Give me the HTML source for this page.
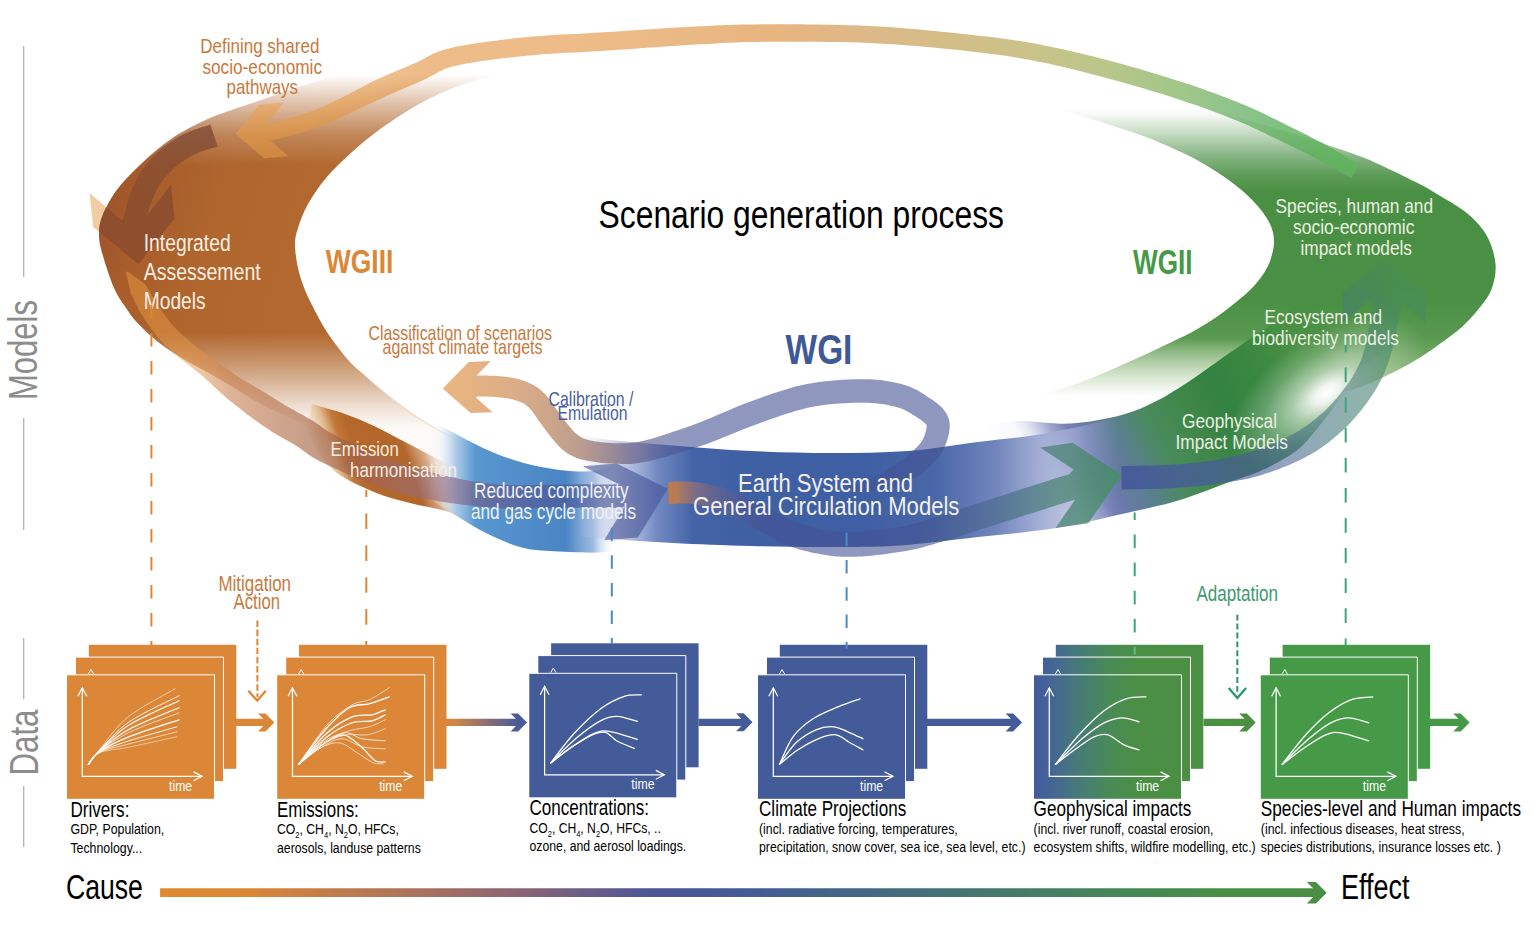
<!DOCTYPE html>
<html><head><meta charset="utf-8"><title>Scenario generation process</title>
<style>
html,body{margin:0;padding:0;background:#fff;}
body{width:1536px;height:926px;overflow:hidden;font-family:"Liberation Sans",sans-serif;}
svg{display:block;}
text{font-family:"Liberation Sans",sans-serif;}
</style></head><body>
<svg width="1536" height="926" viewBox="0 0 1536 926">
<defs>
<linearGradient id="gOr" gradientUnits="userSpaceOnUse" x1="98" y1="200" x2="310" y2="260"><stop offset="0.000" stop-color="#9d522a"/><stop offset="0.200" stop-color="#a85d2b"/><stop offset="0.550" stop-color="#b0662d"/><stop offset="1.000" stop-color="#b2682e"/></linearGradient>
<linearGradient id="gOrTop" gradientUnits="userSpaceOnUse" x1="0" y1="64" x2="0" y2="166"><stop offset="0.000" stop-color="#000"/><stop offset="0.100" stop-color="#000"/><stop offset="0.200" stop-color="#000" stop-opacity="0.86"/><stop offset="0.420" stop-color="#000" stop-opacity="0.55"/><stop offset="0.700" stop-color="#000" stop-opacity="0.2"/><stop offset="1.000" stop-color="#000" stop-opacity="0"/></linearGradient>
<linearGradient id="gOrBot" gradientUnits="userSpaceOnUse" x1="0" y1="332" x2="0" y2="430"><stop offset="0.000" stop-color="#000" stop-opacity="0"/><stop offset="0.250" stop-color="#000" stop-opacity="0.24"/><stop offset="0.500" stop-color="#000" stop-opacity="0.5"/><stop offset="0.750" stop-color="#000" stop-opacity="0.78"/><stop offset="0.920" stop-color="#000" stop-opacity="0.93"/><stop offset="1.000" stop-color="#000" stop-opacity="0.97"/></linearGradient>
<clipPath id="cpOr"><path d="M530 66C521.7 66.1 498.3 66.2 480 66.5C461.7 66.8 441.2 66.9 420 68C398.8 69.1 371.7 70.3 353 73C334.3 75.7 323.3 79.5 308 84C292.7 88.5 277.3 94.3 261 100C244.7 105.7 225 111.5 210 118C195 124.5 182.7 131.2 171 139C159.3 146.8 149.2 156.3 140 165C130.8 173.7 122.3 182.3 116 191C109.7 199.7 104.8 209.5 102 217C99.2 224.5 98.8 229.5 99 236C99.2 242.5 100.5 247.4 103 256C105.5 264.6 110.3 279.3 113.8 287.5C117.3 295.7 120 299.1 124 305C128 310.9 131.3 316.4 137.5 323C143.7 329.6 153.4 338.4 161.3 344.6C169.2 350.8 177.1 355.3 185 360C192.9 364.7 200.9 368.5 208.8 373C216.7 377.5 224.7 382.2 232.6 387C240.5 391.8 248.5 397.2 256.4 401.6C264.3 406 272.1 409.6 280 413.5C287.9 417.4 296.1 421.1 304 425C311.9 428.9 318.3 432.5 327.6 437C336.9 441.5 347.9 446.8 360 452C372.1 457.2 386.7 463 400 468C413.3 473 433.3 479.7 440 482L490 455C481.7 451 455 439.3 440 431C425 422.7 413 414.7 400 405C387 395.3 370.3 380.2 362 373C353.7 365.8 354.2 366.5 350 362C345.8 357.5 341.2 351.5 337 346C332.8 340.5 329.2 335.8 325 329C320.8 322.2 315.5 311.9 312 305C308.5 298.1 306.3 293.7 304 287.5C301.7 281.3 299.5 275.1 298 268C296.5 260.9 295 251.7 295 245C295 238.3 295.8 234.8 298 228C300.2 221.2 303.3 212.3 308 204C312.7 195.7 318.7 186.7 326 178C333.3 169.3 343.8 159.5 352 152C360.2 144.5 367.5 138.8 375 133C382.5 127.2 389.7 122.3 397 117.5C404.3 112.7 411.7 108.1 419 104C426.3 99.9 433.7 96.2 441 93C448.3 89.8 455.5 87.1 463 84.5C470.5 81.9 478.5 79.6 486 77.5C493.5 75.4 500.7 73.6 508 72C515.3 70.4 526.3 68.7 530 68Z"/></clipPath>
<mask id="m_crescent-orange" maskUnits="userSpaceOnUse" x="80" y="40" width="520" height="480"><rect x="80" y="40" width="520" height="480" fill="#fff"/><rect x="80" y="40" width="520" height="480" fill="url(#gOrTop)"/><rect x="80" y="40" width="520" height="480" fill="url(#gOrBot)"/></mask>
<linearGradient id="gGr" gradientUnits="userSpaceOnUse" x1="0" y1="300" x2="0" y2="385"><stop offset="0.000" stop-color="#4a9044"/><stop offset="0.450" stop-color="#5a9a50"/><stop offset="0.800" stop-color="#7fae6c"/><stop offset="1.000" stop-color="#8db679"/></linearGradient>
<linearGradient id="gGrTop" gradientUnits="userSpaceOnUse" x1="0" y1="108" x2="0" y2="192"><stop offset="0.000" stop-color="#000"/><stop offset="0.080" stop-color="#000" stop-opacity="0.95"/><stop offset="0.300" stop-color="#000" stop-opacity="0.68"/><stop offset="0.550" stop-color="#000" stop-opacity="0.36"/><stop offset="0.800" stop-color="#000" stop-opacity="0.1"/><stop offset="1.000" stop-color="#000" stop-opacity="0"/></linearGradient>
<linearGradient id="gGrBot" gradientUnits="userSpaceOnUse" x1="0" y1="338" x2="0" y2="396"><stop offset="0.000" stop-color="#000" stop-opacity="0"/><stop offset="0.500" stop-color="#000" stop-opacity="0.5"/><stop offset="1.000" stop-color="#000"/></linearGradient>
<linearGradient id="gGrBotX" gradientUnits="userSpaceOnUse" x1="1262" y1="0" x2="1345" y2="0"><stop offset="0.000" stop-color="#fff"/><stop offset="1.000" stop-color="#fff" stop-opacity="0"/></linearGradient>
<mask id="mGrBotX" maskUnits="userSpaceOnUse" x="960" y="40" width="560" height="420"><rect x="960" y="40" width="560" height="420" fill="url(#gGrBotX)"/></mask>
<clipPath id="cpGr"><path d="M1000 80C1016.7 81.3 1070 84.7 1100 88C1130 91.3 1156.7 95 1180 100C1203.3 105 1222.5 112.9 1240 118C1257.5 123.1 1271.4 126.7 1285 130.8C1298.6 135 1308.9 138.6 1321.6 142.9C1334.3 147.2 1349.4 152 1361 156.5C1372.6 161 1380.9 165.2 1391 170C1401.1 174.8 1413.2 180.7 1421.4 185C1429.6 189.3 1432.2 191 1440 195.8C1447.8 200.6 1460.2 207.3 1468 214C1475.8 220.7 1482.4 227.7 1487 236C1491.6 244.3 1494.7 255.3 1495.5 264C1496.3 272.7 1494.4 281 1492 288C1489.6 295 1485.5 300 1481 306C1476.5 312 1470.5 318.7 1465 324C1459.5 329.3 1455.5 332.4 1448 338C1440.5 343.6 1429.3 351.7 1420 357.5C1410.7 363.3 1401.3 368.3 1392 373C1382.7 377.7 1372.7 382.3 1364 385.6C1355.3 388.9 1350.7 390.3 1340 393C1329.3 395.7 1316.7 398.8 1300 402C1283.3 405.2 1260 409 1240 412C1220 415 1190 418.7 1180 420L1000 405C1006.2 403.6 1022.4 400.7 1037 396.5C1051.6 392.3 1070.8 386.1 1087.7 379.6C1104.6 373.1 1123.1 364.5 1138.5 357.6C1153.9 350.7 1170.9 342.4 1180 338C1189.1 333.6 1187.6 334.4 1193 331.4C1198.4 328.4 1205.9 324.1 1212.4 319.8C1218.9 315.5 1225.5 310.5 1231.8 305.5C1238.1 300.5 1244.8 295.2 1250 290C1255.2 284.8 1259.5 279.6 1263 274.4C1266.5 269.2 1268.9 264.7 1270.7 258.9C1272.5 253.1 1274.4 245.7 1274 239.4C1273.6 233.1 1271.9 227.3 1268.5 221C1265.1 214.7 1259.7 207.9 1253.4 201.3C1247.1 194.7 1239.5 188.2 1230.7 181.6C1221.9 175 1210.6 167.8 1200.5 162C1190.4 156.2 1180.1 151.5 1170 147C1159.9 142.5 1150.1 138.5 1140 134.8C1129.9 131.1 1120.2 128.3 1109.4 124.8C1098.6 121.3 1086.4 117.4 1075 114C1063.6 110.6 1053.5 107.5 1041 104.3C1028.5 101.1 1006.8 96.5 1000 95Z"/></clipPath>
<mask id="m_crescent-green" maskUnits="userSpaceOnUse" x="960" y="40" width="560" height="420"><rect x="960" y="40" width="560" height="420" fill="#fff"/><rect x="960" y="40" width="560" height="420" fill="url(#gGrTop)"/><rect x="960" y="40" width="560" height="420" fill="url(#gGrBot)" mask="url(#mGrBotX)"/></mask>
<linearGradient id="gLgb" gradientUnits="userSpaceOnUse" x1="1010" y1="480" x2="1300" y2="330"><stop offset="0.000" stop-color="#8f9ccb" stop-opacity="0"/><stop offset="0.090" stop-color="#a3add6" stop-opacity="0.08"/><stop offset="0.130" stop-color="#8d95c8" stop-opacity="0.3"/><stop offset="0.180" stop-color="#7a82bb" stop-opacity="0.7"/><stop offset="0.230" stop-color="#7078b3" stop-opacity="0.95"/><stop offset="0.270" stop-color="#6a7aac"/><stop offset="0.360" stop-color="#5a7f8e"/><stop offset="0.460" stop-color="#4a8a5e"/><stop offset="0.570" stop-color="#40884a"/><stop offset="0.680" stop-color="#348241"/><stop offset="0.820" stop-color="#3a8741"/><stop offset="0.950" stop-color="#489044"/><stop offset="1.000" stop-color="#4a9044"/></linearGradient>
<linearGradient id="gLgbM" gradientUnits="userSpaceOnUse" x1="1300" y1="330" x2="1345" y2="290"><stop offset="0.000" stop-color="#fff"/><stop offset="1.000" stop-color="#fff" stop-opacity="0"/></linearGradient>
<mask id="mLgb" maskUnits="userSpaceOnUse" x="950" y="230" width="520" height="330"><rect x="950" y="230" width="520" height="330" fill="url(#gLgbM)"/></mask>
<radialGradient id="gGlow2"><stop offset="0" stop-color="#fff" stop-opacity="1"/><stop offset="0.12" stop-color="#fff" stop-opacity="0.92"/><stop offset="0.35" stop-color="#fff" stop-opacity="0.55"/><stop offset="0.65" stop-color="#fff" stop-opacity="0.22"/><stop offset="1" stop-color="#fff" stop-opacity="0"/></radialGradient>
<linearGradient id="gEh" gradientUnits="userSpaceOnUse" x1="306" y1="460" x2="437.5" y2="416.2"><stop offset="0.000" stop-color="#f3e2cf" stop-opacity="0"/><stop offset="0.060" stop-color="#f3e2cf" stop-opacity="0"/><stop offset="0.130" stop-color="#f0dcc6" stop-opacity="0.85"/><stop offset="0.200" stop-color="#e2b98f" stop-opacity="0.95"/><stop offset="0.280" stop-color="#c07838"/><stop offset="0.360" stop-color="#b5682b"/><stop offset="0.700" stop-color="#b3662a"/><stop offset="0.820" stop-color="#cf9c72" stop-opacity="0.85"/><stop offset="0.920" stop-color="#ead2bd" stop-opacity="0.45"/><stop offset="1.000" stop-color="#fff" stop-opacity="0"/></linearGradient>
<linearGradient id="gCream" gradientUnits="userSpaceOnUse" x1="355" y1="0" x2="500" y2="0"><stop offset="0.000" stop-color="#e9cfae" stop-opacity="0"/><stop offset="0.200" stop-color="#ecd6b8" stop-opacity="0.9"/><stop offset="0.800" stop-color="#f0dcc2" stop-opacity="0.9"/><stop offset="1.000" stop-color="#f0dcc2" stop-opacity="0.3"/></linearGradient>
<linearGradient id="gRc" gradientUnits="userSpaceOnUse" x1="428" y1="0" x2="625" y2="0"><stop offset="0.000" stop-color="#fff" stop-opacity="0"/><stop offset="0.060" stop-color="#e4eef8" stop-opacity="0.35"/><stop offset="0.140" stop-color="#a5c6e6" stop-opacity="0.9"/><stop offset="0.240" stop-color="#5897d0"/><stop offset="0.700" stop-color="#4a84c4"/><stop offset="0.840" stop-color="#86abd9" stop-opacity="0.8"/><stop offset="0.950" stop-color="#fff" stop-opacity="0"/></linearGradient>
<linearGradient id="gBb" gradientUnits="userSpaceOnUse" x1="575" y1="0" x2="1160" y2="0"><stop offset="0.000" stop-color="#fff" stop-opacity="0"/><stop offset="0.020" stop-color="#c8cde6" stop-opacity="0.15"/><stop offset="0.080" stop-color="#8f9fd0" stop-opacity="0.55"/><stop offset="0.140" stop-color="#5f79b8" stop-opacity="0.88"/><stop offset="0.200" stop-color="#4564a8"/><stop offset="0.280" stop-color="#4060a4"/><stop offset="0.500" stop-color="#3e5fa3"/><stop offset="0.620" stop-color="#4a68a8"/><stop offset="0.720" stop-color="#7286bd"/><stop offset="0.790" stop-color="#a0acd4"/><stop offset="0.850" stop-color="#a7b1d6" stop-opacity="0.7"/><stop offset="0.930" stop-color="#8f9ccb" stop-opacity="0"/></linearGradient>
<linearGradient id="gR1" gradientUnits="userSpaceOnUse" x1="127" y1="0" x2="668" y2="0"><stop offset="0.000" stop-color="#e89a3f" stop-opacity="0.5"/><stop offset="0.120" stop-color="#e6984a" stop-opacity="0.5"/><stop offset="0.194" stop-color="#c87f50" stop-opacity="0.6"/><stop offset="0.283" stop-color="#af693f" stop-opacity="0.6"/><stop offset="0.357" stop-color="#9b5837" stop-opacity="0.6"/><stop offset="0.457" stop-color="#a0645a" stop-opacity="0.6"/><stop offset="0.560" stop-color="#966e7d" stop-opacity="0.6"/><stop offset="0.660" stop-color="#6e5582" stop-opacity="0.6"/><stop offset="0.763" stop-color="#505291" stop-opacity="0.6"/><stop offset="0.850" stop-color="#445294" stop-opacity="0.6"/><stop offset="1.000" stop-color="#445294" stop-opacity="0.62"/></linearGradient>
<linearGradient id="gR2" gradientUnits="userSpaceOnUse" x1="668" y1="0" x2="1122" y2="0"><stop offset="0.000" stop-color="#c27a48"/><stop offset="0.020" stop-color="#b87b52" stop-opacity="0.95"/><stop offset="0.060" stop-color="#8a6f7c" stop-opacity="0.8"/><stop offset="0.130" stop-color="#5c5f92" stop-opacity="0.62"/><stop offset="0.200" stop-color="#445294" stop-opacity="0.6"/><stop offset="0.550" stop-color="#445294" stop-opacity="0.6"/><stop offset="0.700" stop-color="#46668a" stop-opacity="0.62"/><stop offset="0.850" stop-color="#467f70" stop-opacity="0.7"/><stop offset="1.000" stop-color="#459060" stop-opacity="0.8"/></linearGradient>
<linearGradient id="gR3" gradientUnits="userSpaceOnUse" x1="1121" y1="0" x2="1400" y2="0"><stop offset="0.000" stop-color="#46589a" stop-opacity="0.95"/><stop offset="0.120" stop-color="#465c96" stop-opacity="0.9"/><stop offset="0.300" stop-color="#475c98" stop-opacity="0.78"/><stop offset="0.450" stop-color="#4a5c98" stop-opacity="0.66"/><stop offset="0.600" stop-color="#4a6892" stop-opacity="0.6"/><stop offset="0.750" stop-color="#46787e" stop-opacity="0.6"/><stop offset="0.900" stop-color="#46826e" stop-opacity="0.6"/><stop offset="1.000" stop-color="#468a62" stop-opacity="0.6"/></linearGradient>
<linearGradient id="gR3v" gradientUnits="userSpaceOnUse" x1="0" y1="250" x2="0" y2="340"><stop offset="0.000" stop-color="#fff" stop-opacity="0.25"/><stop offset="0.500" stop-color="#fff" stop-opacity="0.75"/><stop offset="1.000" stop-color="#fff"/></linearGradient>
<mask id="mR3" maskUnits="userSpaceOnUse" x="1100" y="200" width="400" height="320"><rect x="1100" y="200" width="400" height="320" fill="url(#gR3v)"/></mask>
<linearGradient id="gRl" gradientUnits="userSpaceOnUse" x1="443" y1="0" x2="690" y2="0"><stop offset="0.000" stop-color="#de8528" stop-opacity="0.6"/><stop offset="0.300" stop-color="#c57a3e" stop-opacity="0.62"/><stop offset="0.500" stop-color="#a87456" stop-opacity="0.68"/><stop offset="0.650" stop-color="#886a6c" stop-opacity="0.7"/><stop offset="0.780" stop-color="#685e82" stop-opacity="0.66"/><stop offset="0.900" stop-color="#4c5590" stop-opacity="0.6"/><stop offset="1.000" stop-color="#445294" stop-opacity="0.6"/></linearGradient>
<linearGradient id="gRt" gradientUnits="userSpaceOnUse" x1="236" y1="0" x2="1358" y2="0"><stop offset="0.000" stop-color="#eba046" stop-opacity="0.52"/><stop offset="0.070" stop-color="#e8983e" stop-opacity="0.52"/><stop offset="0.165" stop-color="#de8528" stop-opacity="0.55"/><stop offset="0.300" stop-color="#de8528" stop-opacity="0.55"/><stop offset="0.477" stop-color="#d9842a" stop-opacity="0.6"/><stop offset="0.560" stop-color="#c8893a" stop-opacity="0.6"/><stop offset="0.645" stop-color="#b59236" stop-opacity="0.6"/><stop offset="0.710" stop-color="#a79b3c" stop-opacity="0.6"/><stop offset="0.775" stop-color="#8ea342" stop-opacity="0.62"/><stop offset="0.840" stop-color="#70a84a" stop-opacity="0.65"/><stop offset="0.895" stop-color="#5aaa58" stop-opacity="0.7"/><stop offset="0.950" stop-color="#5cb05c" stop-opacity="0.8"/><stop offset="1.000" stop-color="#62b45e" stop-opacity="0.9"/></linearGradient>
<linearGradient id="gRb" gradientUnits="userSpaceOnUse" x1="0" y1="125" x2="0" y2="265"><stop offset="0.000" stop-color="#85553f"/><stop offset="0.300" stop-color="#8a4e30"/><stop offset="1.000" stop-color="#8c4a2c"/></linearGradient>
<linearGradient id="gGeoBox" gradientUnits="userSpaceOnUse" x1="1034" y1="0" x2="1204" y2="0"><stop offset="0.000" stop-color="#435b98"/><stop offset="0.060" stop-color="#43609a"/><stop offset="0.250" stop-color="#46797a"/><stop offset="0.450" stop-color="#498b55"/><stop offset="0.620" stop-color="#4a8f44"/><stop offset="1.000" stop-color="#4a8f42"/></linearGradient>
<linearGradient id="gA2" gradientUnits="userSpaceOnUse" x1="446" y1="0" x2="527" y2="0"><stop offset="0.000" stop-color="#dc8738"/><stop offset="0.100" stop-color="#d08648"/><stop offset="0.500" stop-color="#8f6d72"/><stop offset="0.850" stop-color="#4d5c96"/><stop offset="1.000" stop-color="#435b98"/></linearGradient>
<linearGradient id="gCE" gradientUnits="userSpaceOnUse" x1="160" y1="0" x2="1326" y2="0"><stop offset="0.000" stop-color="#e08a2e"/><stop offset="0.080" stop-color="#d98638"/><stop offset="0.300" stop-color="#8f6672"/><stop offset="0.420" stop-color="#4d5596"/><stop offset="0.500" stop-color="#445a96"/><stop offset="0.620" stop-color="#446a80"/><stop offset="0.800" stop-color="#45845c"/><stop offset="0.920" stop-color="#488f44"/><stop offset="1.000" stop-color="#488f44"/></linearGradient>
</defs>
<rect width="1536" height="926" fill="#fff"/>
<g mask="url(#m_crescent-orange)"><path id="crescent-orange" d="M530 66C521.7 66.1 498.3 66.2 480 66.5C461.7 66.8 441.2 66.9 420 68C398.8 69.1 371.7 70.3 353 73C334.3 75.7 323.3 79.5 308 84C292.7 88.5 277.3 94.3 261 100C244.7 105.7 225 111.5 210 118C195 124.5 182.7 131.2 171 139C159.3 146.8 149.2 156.3 140 165C130.8 173.7 122.3 182.3 116 191C109.7 199.7 104.8 209.5 102 217C99.2 224.5 98.8 229.5 99 236C99.2 242.5 100.5 247.4 103 256C105.5 264.6 110.3 279.3 113.8 287.5C117.3 295.7 120 299.1 124 305C128 310.9 131.3 316.4 137.5 323C143.7 329.6 153.4 338.4 161.3 344.6C169.2 350.8 177.1 355.3 185 360C192.9 364.7 200.9 368.5 208.8 373C216.7 377.5 224.7 382.2 232.6 387C240.5 391.8 248.5 397.2 256.4 401.6C264.3 406 272.1 409.6 280 413.5C287.9 417.4 296.1 421.1 304 425C311.9 428.9 318.3 432.5 327.6 437C336.9 441.5 347.9 446.8 360 452C372.1 457.2 386.7 463 400 468C413.3 473 433.3 479.7 440 482L490 455C481.7 451 455 439.3 440 431C425 422.7 413 414.7 400 405C387 395.3 370.3 380.2 362 373C353.7 365.8 354.2 366.5 350 362C345.8 357.5 341.2 351.5 337 346C332.8 340.5 329.2 335.8 325 329C320.8 322.2 315.5 311.9 312 305C308.5 298.1 306.3 293.7 304 287.5C301.7 281.3 299.5 275.1 298 268C296.5 260.9 295 251.7 295 245C295 238.3 295.8 234.8 298 228C300.2 221.2 303.3 212.3 308 204C312.7 195.7 318.7 186.7 326 178C333.3 169.3 343.8 159.5 352 152C360.2 144.5 367.5 138.8 375 133C382.5 127.2 389.7 122.3 397 117.5C404.3 112.7 411.7 108.1 419 104C426.3 99.9 433.7 96.2 441 93C448.3 89.8 455.5 87.1 463 84.5C470.5 81.9 478.5 79.6 486 77.5C493.5 75.4 500.7 73.6 508 72C515.3 70.4 526.3 68.7 530 68Z" fill="url(#gOr)"/></g>
<g mask="url(#m_crescent-green)"><path id="crescent-green" d="M1000 80C1016.7 81.3 1070 84.7 1100 88C1130 91.3 1156.7 95 1180 100C1203.3 105 1222.5 112.9 1240 118C1257.5 123.1 1271.4 126.7 1285 130.8C1298.6 135 1308.9 138.6 1321.6 142.9C1334.3 147.2 1349.4 152 1361 156.5C1372.6 161 1380.9 165.2 1391 170C1401.1 174.8 1413.2 180.7 1421.4 185C1429.6 189.3 1432.2 191 1440 195.8C1447.8 200.6 1460.2 207.3 1468 214C1475.8 220.7 1482.4 227.7 1487 236C1491.6 244.3 1494.7 255.3 1495.5 264C1496.3 272.7 1494.4 281 1492 288C1489.6 295 1485.5 300 1481 306C1476.5 312 1470.5 318.7 1465 324C1459.5 329.3 1455.5 332.4 1448 338C1440.5 343.6 1429.3 351.7 1420 357.5C1410.7 363.3 1401.3 368.3 1392 373C1382.7 377.7 1372.7 382.3 1364 385.6C1355.3 388.9 1350.7 390.3 1340 393C1329.3 395.7 1316.7 398.8 1300 402C1283.3 405.2 1260 409 1240 412C1220 415 1190 418.7 1180 420L1000 405C1006.2 403.6 1022.4 400.7 1037 396.5C1051.6 392.3 1070.8 386.1 1087.7 379.6C1104.6 373.1 1123.1 364.5 1138.5 357.6C1153.9 350.7 1170.9 342.4 1180 338C1189.1 333.6 1187.6 334.4 1193 331.4C1198.4 328.4 1205.9 324.1 1212.4 319.8C1218.9 315.5 1225.5 310.5 1231.8 305.5C1238.1 300.5 1244.8 295.2 1250 290C1255.2 284.8 1259.5 279.6 1263 274.4C1266.5 269.2 1268.9 264.7 1270.7 258.9C1272.5 253.1 1274.4 245.7 1274 239.4C1273.6 233.1 1271.9 227.3 1268.5 221C1265.1 214.7 1259.7 207.9 1253.4 201.3C1247.1 194.7 1239.5 188.2 1230.7 181.6C1221.9 175 1210.6 167.8 1200.5 162C1190.4 156.2 1180.1 151.5 1170 147C1159.9 142.5 1150.1 138.5 1140 134.8C1129.9 131.1 1120.2 128.3 1109.4 124.8C1098.6 121.3 1086.4 117.4 1075 114C1063.6 110.6 1053.5 107.5 1041 104.3C1028.5 101.1 1006.8 96.5 1000 95Z" fill="url(#gGr)"/></g>
<g mask="url(#mLgb)"><path id="band-green-lower" d="M985 426C990.8 425.2 1005.7 421.4 1020 421C1034.3 420.6 1053.9 424.6 1070.8 423.6C1087.7 422.6 1107.5 418.7 1121.6 415C1135.7 411.3 1144.1 407.2 1155.4 401.6C1166.7 396 1178 388.6 1189.3 381.2C1200.6 373.8 1211.7 365.4 1223 357.5C1234.3 349.6 1247.5 340.4 1257 333.9C1266.5 327.4 1273.7 323.4 1280 318.6C1286.3 313.8 1290.7 309.8 1295 305C1299.3 300.2 1303.2 295.8 1306 290C1308.8 284.2 1311 273.3 1312 270L1400 345C1396.3 346.8 1384.4 352.3 1378 356C1371.6 359.7 1366.4 362.3 1361.5 367C1356.6 371.7 1352.8 377.8 1348.5 384C1344.2 390.2 1340.3 397.6 1335.6 404.4C1330.8 411.2 1325.6 418.1 1320 425C1314.4 431.9 1308 440.3 1302 446C1296 451.7 1291 454.7 1283.7 459C1276.4 463.3 1266.6 468.3 1258 472C1249.4 475.7 1245 476.3 1232 481C1219 485.7 1196.2 495 1180 500C1163.8 505 1155.7 506.3 1135 511C1114.3 515.7 1081 523.7 1056 528C1031 532.3 996.8 535.5 985 537Z" fill="url(#gLgb)"/></g>
<ellipse cx="1327" cy="393" rx="112" ry="58" transform="rotate(-34 1327 393)" fill="url(#gGlow2)"/>
<path id="band-eh" d="M312 404C317.5 405.7 334.7 410.3 345 414C355.3 417.7 364 421.3 374 426C384 430.7 395.7 437.2 405 442C414.3 446.8 422.2 451 430 455C437.8 459 445.3 462.8 452 466C458.7 469.2 467 472.7 470 474L470 522C466.2 520.2 457 514.7 447 511.5C437 508.3 422.2 506.2 410 503C397.8 499.8 386.2 497 374 492C361.8 487 346.3 479.7 337 473C327.7 466.3 323.2 458.8 318 452C312.8 445.2 308 435.3 306 432Z" fill="url(#gEh)"/>
<path d="M350 362C352 363.8 357 368.5 362 373C367 377.5 373.7 383.7 380 389C386.3 394.3 393.3 400 400 405C406.7 410 413.3 414.7 420 419C426.7 423.3 432.5 426.8 440 431C447.5 435.2 456.7 440 465 444C473.3 448 481.7 451.5 490 455C498.3 458.5 510.8 463.3 515 465" fill="none" stroke="url(#gCream)" stroke-width="1.3"/>
<path id="band-rc" d="M428 418C431.7 420.1 441.7 426.1 450 430.7C458.3 435.3 470.4 441.7 478 445.5C485.6 449.3 489.1 450.8 495.6 453.4C502.1 456 509.4 458.7 517 461C524.6 463.3 533 465.4 541 467C549 468.6 557.5 469.8 565 470.5C572.5 471.2 578.5 471.9 586 471.5C593.5 471.1 603.5 469.6 610 468C616.5 466.4 622.5 463 625 462L625 548C620.8 548.8 612.5 552 600 552.5C587.5 553 563.3 551.9 550 551C536.7 550.1 531 550.2 520 547C509 543.8 496.2 538.2 484 532C471.8 525.8 456.3 515.7 447 510C437.7 504.3 431.2 500 428 498Z" fill="url(#gRc)"/>
<path id="band-blue" d="M575 434C581 435 594.7 438.1 611 440C627.3 441.9 649.7 443.7 673 445.5C696.3 447.3 724.8 449.8 751 451C777.2 452.2 803.8 453 830 453C856.2 453 883.3 452.8 908 451C932.7 449.2 956.7 444.7 978 442C999.3 439.3 1016.5 438.2 1036 435C1055.5 431.8 1075.3 427.8 1095 423C1114.7 418.2 1144.2 408.8 1154 406L1200 492C1189 495.2 1158 505 1134 511C1110 517 1082 523.7 1056 528C1030 532.3 1004 534.1 978 537C952 539.9 924.7 543.8 900 545.5C875.3 547.2 854.8 546.9 830 547C805.2 547.1 777.2 546.7 751 546C724.8 545.3 696.3 544.2 673 543C649.7 541.8 626.5 540.2 611 539C595.5 537.8 585.2 536.5 580 536Z" fill="url(#gBb)"/>
<g id="ribbons">
<path id="rib1" d="M126 272.6L126.5 274.7L127 276.7L127.4 278.8L127.9 280.8L128.4 282.9L128.9 285L129.4 287L129.8 289.1L130.3 291.3L130.7 293.4L131.7 295.3L132.7 297.2L133.7 299.2L134.7 301.3L135.8 303.5L136.9 305.7L138.1 308L139.3 310.4L140.6 312.8L142 315.1L143.5 317.4L144.9 319.6L146.5 321.9L148 324.2L149.7 326.6L151.4 328.9L153.2 331.3L155 333.7L156.9 336L158.9 338.3L161 340.6L163.1 342.8L165.3 344.9L167.5 347.1L169.7 349.1L172 351.1L174.2 353.1L176.5 355L178.7 356.9L180.9 358.8L183.1 360.7L185.3 362.5L187.6 364.3L189.7 366L191.9 367.7L194.1 369.4L196.2 371L198.4 372.7L200.5 374.3L202.6 376.1L204.7 378L206.9 380L209.1 382L211.3 384.1L213.6 386.3L215.9 388.4L218.3 390.6L220.6 392.7L223 394.8L225.4 396.9L227.8 398.9L230.1 400.9L232.5 402.8L234.8 404.7L237.2 406.5L239.5 408.3L241.8 410.1L244.1 411.9L246.3 413.7L248.6 415.4L250.9 417.1L253.2 418.7L255.5 420.4L257.9 422L260.2 423.7L262.6 425.4L265 427L267.4 428.6L269.8 430.3L272.3 431.9L274.9 433.5L277.5 435L280.1 436.5L282.7 438L285.1 439.4L287.6 440.7L289.9 442L292.1 443.3L294.2 444.6L296.1 445.7L297.8 446.8L299.4 447.9L301 449.1L302.6 450.3L304.3 451.5L306.1 452.8L308.1 454.2L310.2 455.7L312.5 457.2L314.9 458.6L317.4 460L319.9 461.3L322.4 462.6L324.9 463.8L327.4 465L329.9 466.1L332.4 467.3L334.9 468.4L337.3 469.5L339.7 470.6L342.1 471.7L344.5 472.9L347.1 474L349.6 475.2L352.2 476.4L354.8 477.6L357.5 478.8L360.1 479.9L362.8 481.1L365.5 482.1L368.1 483.1L370.7 484.1L373.3 485L375.9 485.8L378.4 486.6L380.9 487.4L383.3 488.1L385.8 488.9L388.2 489.6L390.7 490.3L393.1 491.1L395.6 491.8L398.1 492.5L400.7 493.2L403.2 493.9L405.8 494.6L408.4 495.2L411 495.9L413.6 496.5L416.2 497.1L418.9 497.7L421.6 498.2L424.3 498.7L427 499.2L429.6 499.7L432.3 500.1L434.9 500.6L437.5 501L440.1 501.4L442.6 501.8L445 502.2L447.4 502.5L449.9 502.9L452.2 503.2L454.6 503.5L457 503.9L459.3 504.2L461.6 504.4L463.9 504.7L466.3 505L468.6 505.3L470.9 505.6L473.2 505.8L475.5 506.1L477.8 506.3L480.1 506.5L482.3 506.8L484.5 507L486.7 507.2L488.8 507.3L490.8 507.5L492.8 507.7L494.6 507.9L496.5 508.1L498.5 508.2L500.5 508.4L502.6 508.5L504.8 508.6L507.2 508.7L509.8 508.7L512.5 508.8L515.3 508.8L518.1 508.7L521 508.7L524 508.6L527.1 508.5L530.3 508.4L533.5 508.3L536.8 508.3L540.2 508.2L543.8 508.1L547.6 508.1L551.6 508L555.7 508L559.8 507.9L564 507.9L568.2 507.8L572.3 507.8L576.3 507.7L580.1 507.7L583.7 507.7L587.4 507.7L591.1 507.7L594.7 507.8L598.3 507.8L601.9 507.8L605.4 507.8L608.8 507.8L612.2 507.8L615.4 507.7L618.4 507.6L621.1 507.5L624.8 506.5L604.1 540.3L637.9 537.4L667.7 488.8L616.7 463.4L582.8 466.3L618.3 484L620 484.1L617.4 484.2L614.6 484.3L611.7 484.4L608.6 484.4L605.4 484.4L602 484.4L598.5 484.4L594.9 484.4L591.3 484.3L587.5 484.3L583.7 484.3L579.9 484.3L576.1 484.3L572 484.4L567.9 484.4L563.7 484.5L559.5 484.5L555.4 484.6L551.3 484.6L547.3 484.7L543.4 484.7L539.8 484.8L536.3 484.9L532.9 484.9L529.6 485L526.5 485.1L523.5 485.2L520.6 485.2L517.8 485.3L515.1 485.3L512.6 485.3L510.2 485.3L508 485.2L506 485.1L504.1 485L502.3 484.8L500.5 484.7L498.8 484.5L497 484.3L495.2 484.1L493.2 483.9L491.2 483.7L489.1 483.4L487 483.2L484.9 482.9L482.7 482.7L480.6 482.4L478.4 482.1L476.3 481.8L474.1 481.5L471.9 481.2L469.7 480.8L467.6 480.4L465.4 480L463.2 479.6L461 479.2L458.8 478.7L456.6 478.2L454.4 477.8L452.1 477.3L449.8 476.8L447.4 476.2L445 475.7L442.6 475.1L440.1 474.5L437.6 473.9L435.2 473.3L432.7 472.7L430.2 472.1L427.7 471.4L425.3 470.7L423 470.1L420.6 469.4L418.3 468.7L415.9 468L413.6 467.3L411.2 466.6L408.8 465.8L406.5 465L404.1 464.3L401.7 463.5L399.3 462.7L397 461.9L394.6 461.1L392.3 460.3L390 459.5L387.7 458.7L385.4 457.9L383.2 457.1L381 456.2L378.7 455.4L376.5 454.5L374.3 453.5L371.9 452.5L369.6 451.5L367.2 450.4L364.7 449.3L362.3 448.1L359.8 446.9L357.3 445.8L354.8 444.6L352.3 443.4L349.8 442.2L347.3 441.1L344.9 440L342.5 438.9L340.2 437.8L337.9 436.7L335.7 435.7L333.6 434.6L331.7 433.6L329.9 432.6L328.3 431.6L326.8 430.7L325.3 429.6L323.7 428.6L322.1 427.4L320.4 426.1L318.5 424.7L316.5 423.3L314.3 421.8L311.9 420.3L309.5 418.8L307 417.4L304.5 416L302 414.6L299.5 413.3L297 412L294.6 410.6L292.2 409.3L289.9 408L287.7 406.7L285.4 405.4L283.1 404L280.8 402.6L278.5 401.2L276.1 399.7L273.8 398.3L271.4 396.8L269 395.3L266.6 393.7L264.2 392.2L261.7 390.8L259.2 389.3L256.8 387.9L254.3 386.5L251.9 385L249.4 383.6L247 382.2L244.6 380.7L242.2 379.2L239.8 377.7L237.4 376.1L235 374.5L232.5 372.8L230.1 371L227.5 369.3L225 367.4L222.5 365.6L220 363.8L217.5 362.1L215 360.3L212.6 358.5L210.2 356.8L208 355.2L205.7 353.6L203.5 352L201.4 350.5L199.3 349L197.2 347.4L195.2 345.9L193.1 344.2L191 342.4L188.9 340.6L186.7 338.8L184.6 336.9L182.5 335L180.5 333.2L178.5 331.3L176.6 329.4L174.8 327.5L173.1 325.7L171.4 323.8L169.8 321.8L168.3 319.8L166.7 317.7L165.2 315.6L163.7 313.5L162.2 311.3L160.8 309.1L159.4 307L158 304.9L156.6 302.9L155.3 301L154.1 299L152.8 296.9L151.6 294.9L150.4 292.8L149.1 290.7L147.9 288.7L146.6 286.6L145.3 284.6L143.4 283L141.6 281.6L139.8 280.2L138 278.9L136.3 277.6L134.6 276.4L132.8 275.2L131.1 273.9L129.4 272.7L127.6 271.4Z" fill="url(#gR1)"/>
<path id="rib2" d="M668.6 504L671.1 504L673.7 503.9L676.1 503.7L678.4 503.6L680.6 503.5L682.7 503.4L684.8 503.4L687 503.5L689.2 503.6L691.6 503.9L694.3 504.4L697.2 504.9L700.3 505.5L703.4 506.2L706.6 506.9L709.9 507.8L713.1 508.7L716.3 509.6L719.4 510.7L722.4 511.8L725.3 513L728.3 514.3L731.3 515.8L734.4 517.4L737.6 519.1L740.8 520.8L744.1 522.6L747.4 524.5L750.8 526.3L754.2 528.1L757.4 529.8L760.6 531.5L763.8 533.3L767.1 535.2L770.5 537L773.9 538.9L777.4 540.7L781 542.5L784.6 544.1L788.3 545.7L792.1 547L795.8 548.2L799.5 549.4L803.2 550.4L806.8 551.3L810.4 552.2L813.9 552.9L817.4 553.6L820.7 554.3L823.9 554.8L827.1 555.3L830.2 555.8L833.3 556.1L836.2 556.4L839.1 556.6L842 556.7L844.8 556.8L847.5 556.8L850.3 556.8L853.2 556.8L856.1 556.7L859 556.6L861.9 556.5L864.8 556.3L867.7 556.1L870.6 555.8L873.6 555.5L876.5 555.1L879.5 554.8L882.6 554.4L885.7 554L889 553.6L892.3 553.1L895.7 552.6L899.1 552.1L902.6 551.5L906.1 550.9L909.7 550.2L913.3 549.5L916.8 548.7L920.3 547.9L923.7 547L926.9 546.1L930.1 545.2L933.4 544.3L936.6 543.3L940 542.2L943.6 541.1L947.4 539.9L951.5 538.7L956.1 537.3L961.1 535.7L966.3 534L971.8 532.3L977.4 530.5L983 528.7L988.6 527L994 525.2L999.2 523.6L1004 522.1L1008.5 520.6L1012.9 519.2L1017.1 517.9L1021.2 516.6L1025.2 515.3L1029.1 514.1L1032.9 512.9L1036.6 511.7L1040.3 510.5L1043.9 509.4L1047.4 508.3L1050.7 507.2L1053.8 506.2L1056.7 505.3L1059.6 504.3L1062.5 503.4L1065.5 502.5L1068.7 501.6L1072.1 500.6L1075.9 499.6L1078.4 494.9L1055.6 527.9L1088.3 523.3L1121.7 475L1072.6 442.8L1040 447.4L1073.5 469.4L1069.1 474.4L1065.1 475.5L1061.4 476.6L1058 477.6L1054.8 478.6L1051.7 479.6L1048.7 480.5L1045.8 481.5L1042.7 482.5L1039.5 483.5L1036.1 484.6L1032.5 485.7L1028.8 486.9L1025 488.1L1021.2 489.3L1017.3 490.5L1013.3 491.8L1009.2 493.1L1005 494.5L1000.6 495.9L996 497.3L991.2 498.9L986.1 500.6L980.6 502.4L975.1 504.2L969.5 506L963.9 507.8L958.5 509.6L953.3 511.3L948.4 512.9L943.9 514.3L939.7 515.7L935.9 516.9L932.4 518.1L929 519.1L925.9 520.1L922.9 521.1L920 521.9L917.1 522.8L914.2 523.6L911.2 524.3L908 525L904.9 525.7L901.6 526.3L898.4 526.9L895.2 527.4L892 527.9L888.7 528.4L885.6 528.8L882.5 529.2L879.4 529.6L876.5 530L873.6 530.3L870.8 530.6L868.2 530.9L865.5 531.2L863 531.4L860.4 531.5L857.9 531.7L855.4 531.8L852.8 531.8L850.3 531.8L847.7 531.8L845.3 531.8L842.9 531.7L840.5 531.6L838.2 531.4L835.8 531.2L833.3 530.9L830.8 530.6L828.1 530.2L825.2 529.7L822.2 529.1L819.1 528.5L815.9 527.8L812.8 527L809.6 526.2L806.4 525.3L803.3 524.4L800.2 523.4L797.3 522.3L794.3 521.2L791.3 519.9L788.3 518.5L785.1 517L781.9 515.4L778.7 513.7L775.3 511.9L771.9 510.2L768.5 508.4L765 506.7L761.8 505.1L758.5 503.5L755.2 501.8L751.9 500L748.5 498.3L745 496.5L741.4 494.8L737.8 493.2L734.1 491.6L730.4 490.2L726.6 489L722.9 487.8L719.1 486.8L715.4 485.9L711.7 485L708 484.3L704.5 483.6L701 483L697.7 482.5L694.4 482.1L691.2 481.7L688.1 481.5L685.1 481.4L682.3 481.4L679.7 481.5L677.2 481.6L674.9 481.8L672.7 481.9L670.5 482L668.2 482Z" fill="url(#gR2)"/>
<g mask="url(#mR3)"><path id="rib3" d="M1121.7 489.4L1125.5 489.4L1129.4 489.3L1133.4 489.3L1137.3 489.2L1141.2 489.2L1145.2 489.1L1149.1 489.1L1152.9 489L1156.7 488.9L1160.5 488.7L1164.1 488.6L1167.5 488.4L1171 488.2L1174.3 488.1L1177.7 487.8L1181 487.6L1184.3 487.4L1187.6 487.1L1190.9 486.8L1194.2 486.5L1197.5 486.2L1200.9 485.8L1204.3 485.4L1207.6 485.1L1211 484.6L1214.3 484.2L1217.6 483.8L1220.8 483.3L1224 482.8L1227 482.3L1229.9 481.9L1232.6 481.5L1235.3 481L1238 480.6L1240.7 480.1L1243.4 479.6L1246.1 479L1249 478.4L1252 477.6L1255 476.8L1258.2 475.9L1261.6 474.9L1265 473.8L1268.4 472.7L1272 471.5L1275.5 470.2L1279 468.9L1282.5 467.6L1285.9 466.3L1289.2 464.9L1292.4 463.5L1295.5 462.1L1298.5 460.7L1301.5 459.2L1304.5 457.7L1307.5 456.1L1310.5 454.5L1313.5 452.7L1316.4 450.9L1319.4 449L1322.3 447L1325.3 444.8L1328.2 442.7L1331 440.4L1333.9 438.1L1336.7 435.8L1339.4 433.3L1342.1 430.9L1344.8 428.4L1347.4 425.9L1349.9 423.2L1352.4 420.5L1354.9 417.8L1357.3 415L1359.6 412.2L1361.8 409.4L1364 406.6L1366 403.9L1368 401.2L1369.9 398.6L1371.6 396L1373.3 393.4L1374.9 390.9L1376.5 388.3L1377.9 385.8L1379.3 383.3L1380.6 380.8L1381.8 378.4L1383 375.9L1384.1 373.4L1385.3 370.8L1386.3 368.1L1387.3 365.5L1388.2 363L1389.1 360.4L1389.9 357.9L1390.6 355.4L1391.3 353L1392 350.6L1392.7 348.2L1393.3 345.7L1393.9 343.1L1394.5 340.6L1395 338.1L1395.5 335.7L1396 333.3L1396.4 330.9L1396.8 328.6L1397.2 326.4L1397.6 324.3L1397.9 322.6L1398.2 321L1398.6 319.5L1399 317.7L1399.4 315.8L1399.8 313.6L1400.1 311.1L1400.4 308.4L1400.5 305.4L1400.6 302L1398 299.8L1425.5 323L1425.5 293L1384 258L1342.5 293L1342.5 323L1370 299.8L1372.6 302L1372.6 304.6L1372.5 306.6L1372.4 308.3L1372.3 309.6L1372.1 310.9L1371.9 312.2L1371.6 313.6L1371.2 315.4L1370.8 317.4L1370.4 319.7L1370.1 322L1369.8 324.1L1369.4 326.3L1369.1 328.5L1368.7 330.7L1368.3 332.9L1367.9 335.1L1367.5 337.2L1367 339.3L1366.5 341.4L1366 343.6L1365.4 345.9L1364.8 348.1L1364.2 350.2L1363.6 352.4L1362.9 354.5L1362.2 356.5L1361.5 358.6L1360.7 360.6L1359.9 362.6L1358.9 364.7L1358 366.8L1356.9 368.8L1355.9 370.9L1354.8 372.9L1353.6 374.9L1352.4 377L1351.1 379.1L1349.7 381.2L1348.1 383.4L1346.5 385.7L1344.7 388.1L1342.9 390.6L1341 393L1339 395.5L1337 397.9L1334.9 400.3L1332.8 402.7L1330.7 405L1328.6 407.1L1326.4 409.3L1324.2 411.4L1321.8 413.6L1319.4 415.6L1317 417.7L1314.5 419.7L1312 421.6L1309.6 423.5L1307.1 425.3L1304.6 427L1302.2 428.6L1299.7 430.2L1297.3 431.7L1294.8 433.1L1292.3 434.5L1289.7 435.8L1287.1 437.2L1284.4 438.5L1281.6 439.8L1278.8 441.1L1275.9 442.4L1272.9 443.7L1269.7 445L1266.6 446.3L1263.3 447.5L1260.1 448.7L1256.9 449.8L1253.8 450.9L1250.8 451.9L1248 452.8L1245.3 453.6L1242.8 454.3L1240.4 455L1238.1 455.6L1235.8 456.1L1233.4 456.6L1231 457.1L1228.5 457.6L1225.8 458.1L1223 458.7L1220.1 459.2L1217.1 459.7L1214.1 460.2L1211 460.6L1207.8 461.1L1204.6 461.5L1201.4 462L1198.2 462.4L1195 462.8L1191.8 463.1L1188.7 463.4L1185.5 463.7L1182.4 463.9L1179.3 464.2L1176.1 464.4L1172.9 464.6L1169.7 464.8L1166.4 465L1163 465.1L1159.5 465.3L1156 465.4L1152.4 465.5L1148.6 465.6L1144.8 465.6L1140.9 465.7L1137 465.7L1133.1 465.8L1129.1 465.8L1125.2 465.9L1121.3 466Z" fill="url(#gR3)"/></g>
<path id="ribloop" d="M850.4 491L853.5 491L856.7 491L859.9 491.1L863.2 491.1L866.4 491.2L869.7 491.2L872.9 491.2L876.1 491.1L879.3 490.9L882.4 490.6L885.2 490L888 489.3L890.7 488.5L893.2 487.7L895.7 486.9L898.1 486L900.3 485.2L902.6 484.3L904.7 483.4L906.9 482.5L908.9 481.4L911 480.2L913 479L915 477.8L917 476.5L918.9 475.2L920.8 473.9L922.6 472.5L924.4 471.1L926.2 469.7L927.8 468.3L929.5 466.8L931.1 465.3L932.7 463.7L934.4 462.1L936 460.4L937.5 458.6L939 456.7L940.5 454.7L941.9 452.5L943.1 450.3L944.2 448L945.2 445.7L946.1 443.4L946.9 441.2L947.6 438.9L948.2 436.7L948.7 434.6L949.1 432.5L949.4 430.5L949.6 428.6L949.7 426.7L949.7 424.8L949.6 422.7L949.2 420.7L948.7 418.6L947.9 416.6L947.1 414.8L946.1 413L945 411.4L943.7 409.7L942.4 408.1L940.9 406.6L939.4 405.2L937.8 403.9L936.2 402.6L934.5 401.4L932.8 400.1L931 398.9L929.2 397.8L927.4 396.7L925.6 395.4L923.6 394.1L921.4 392.7L919 391.3L916.3 389.8L913.5 388.4L910.4 387.1L907.2 385.8L903.8 384.7L900.4 383.8L897 383L893.5 382.2L889.8 381.5L886 380.9L882 380.3L877.8 379.9L873.4 379.6L868.8 379.3L864.1 379.3L859.2 379.3L854 379.3L848.5 379.5L842.8 379.8L837 380.2L831 380.7L825 381.3L819 382L813 382.9L807.1 384L801.3 385.2L795.5 386.6L789.8 388.2L784.1 389.9L778.4 391.7L772.8 393.6L767.2 395.5L761.7 397.4L756.2 399.4L750.7 401.4L745.1 403.5L739.4 405.7L733.9 408L728.3 410.4L722.8 412.8L717.4 415.1L712 417.4L706.7 419.6L701.4 421.7L696.2 423.7L690.8 425.7L685.2 427.7L679.5 429.7L673.8 431.6L668.2 433.5L662.7 435.3L657.4 436.9L652.4 438.4L647.8 439.7L643.7 440.8L640 441.6L636.7 442.2L633.9 442.6L631.3 443L628.9 443.2L626.6 443.3L624.2 443.3L621.8 443.3L619.1 443.3L616.3 443.3L613.4 443.2L610.4 443L607.4 442.8L604.3 442.5L601.3 442.2L598.3 441.8L595.5 441.4L592.8 440.9L590.4 440.5L588.3 440L586.6 439.6L585.1 439.1L583.9 438.6L582.9 438.2L582 437.7L581.1 437.2L580.2 436.7L579.3 436.1L578.3 435.3L577.2 434.5L576.3 433.8L575.5 433.2L574.7 432.4L573.9 431.6L573.1 430.7L572.2 429.7L571.2 428.6L570.2 427.4L569.1 426.1L568.1 424.8L567 423.5L566 422.3L565 421L564 419.6L562.9 418.2L561.9 416.8L560.8 415.3L559.7 413.8L558.5 412.2L557.5 410.8L556.5 409.4L555.5 408L554.4 406.4L553.3 404.8L552.2 403.2L551 401.5L549.8 399.8L548.5 398.1L547.1 396.4L545.7 394.8L544.3 393.4L543.1 392.2L541.7 391L540.4 389.8L538.9 388.6L537.4 387.5L535.8 386.4L534.1 385.4L532.3 384.4L530.5 383.5L528.6 382.7L526.7 381.9L524.7 381.1L522.7 380.4L520.6 379.8L518.4 379.1L516.1 378.6L513.6 378.1L511.1 377.6L508.5 377.2L505.7 376.8L502.8 376.5L499.8 376.3L496.7 376L493.5 375.8L490.2 375.7L486.9 375.6L483.6 375.5L480.2 375.5L476.8 375.5L475.4 376.8L490.8 361.1L468.8 361.9L442.7 388.4L470.6 413L492.6 412.3L476.1 397.7L477.2 396.5L480.2 396.5L483.3 396.5L486.4 396.6L489.4 396.7L492.4 396.8L495.3 397L498.1 397.2L500.7 397.4L503.2 397.7L505.5 398L507.6 398.3L509.6 398.7L511.4 399.1L513.1 399.5L514.7 399.9L516.2 400.4L517.6 400.9L518.9 401.4L520.3 401.9L521.5 402.5L522.7 403.1L523.7 403.6L524.5 404.1L525.3 404.6L526.1 405.2L526.8 405.8L527.6 406.5L528.5 407.3L529.4 408.2L530.3 409.2L531.2 410.1L532 411.1L532.9 412.3L533.9 413.7L534.9 415.1L536 416.6L537 418.3L538.2 419.9L539.4 421.6L540.5 423.2L541.7 424.7L542.7 426.2L543.8 427.7L544.9 429.2L546.1 430.7L547.2 432.3L548.4 433.8L549.6 435.3L550.8 436.8L551.9 438.2L553 439.5L554.1 440.8L555.1 442.1L556.3 443.4L557.4 444.7L558.7 446.1L560.1 447.5L561.6 448.9L563.2 450.2L564.8 451.5L566.3 452.5L567.7 453.4L569.2 454.4L570.9 455.3L572.7 456.3L574.6 457.1L576.6 458L578.8 458.7L581.2 459.4L583.7 460L586.4 460.6L589.2 461.1L592.3 461.6L595.5 462.1L598.8 462.5L602.2 462.9L605.7 463.2L609.1 463.5L612.5 463.6L615.7 463.7L618.7 463.8L621.5 463.9L624.2 464L627.1 464L630.1 463.9L633.2 463.7L636.6 463.3L640.2 462.8L644.1 462.1L648.3 461.2L653 460.2L658.1 458.9L663.4 457.5L669 455.9L674.7 454.2L680.6 452.5L686.5 450.6L692.3 448.7L698.1 446.8L703.8 444.9L709.4 442.9L715.1 440.7L720.7 438.5L726.3 436.2L731.8 434L737.3 431.7L742.7 429.5L748.1 427.4L753.4 425.4L758.7 423.4L764.1 421.5L769.6 419.6L775 417.7L780.4 415.8L785.7 414L791 412.4L796.2 410.8L801.4 409.4L806.6 408.1L811.7 407L816.9 406.1L822.2 405.3L827.7 404.6L833.2 404.1L838.7 403.6L844.1 403.3L849.4 403L854.5 402.8L859.4 402.8L863.9 402.7L868.1 402.8L872 403L875.7 403.3L879.2 403.7L882.5 404.1L885.7 404.6L888.8 405.2L891.7 405.9L894.6 406.6L897.2 407.3L899.6 408L901.7 408.7L903.7 409.6L905.6 410.5L907.5 411.5L909.4 412.6L911.3 413.7L913.1 414.9L915 416.1L916.8 417.2L918.4 418.2L919.9 419.2L921.1 420.1L922.3 420.9L923.3 421.7L924.1 422.4L924.8 423.1L925.4 423.7L925.9 424.2L926.2 424.6L926.5 425.1L926.7 425.4L926.7 425.5L926.7 425.5L926.7 425.4L926.7 425.5L926.7 425.6L926.7 426L926.7 426.7L926.6 427.5L926.4 428.5L926.2 429.7L925.9 431.1L925.5 432.5L925 434L924.5 435.5L924 437L923.4 438.3L922.8 439.6L922.1 440.7L921.5 441.7L920.7 442.8L919.8 443.9L918.8 445L917.7 446.2L916.6 447.4L915.3 448.6L914 449.8L912.6 451L911.2 452.3L909.9 453.5L908.5 454.6L907.1 455.8L905.7 456.9L904.2 458L902.6 459.1L901 460.2L899.4 461.3L897.7 462.4L895.9 463.5L894.2 464.8L892.5 466.1L890.8 467.4L889 468.6L887.3 469.8L885.5 471L883.7 472.2L881.8 473.3L879.8 474.3L877.6 475.4L875.4 476.6L873 477.8L870.4 479L867.6 480.2L864.7 481.3L861.7 482.5L858.6 483.6L855.6 484.7L852.6 485.9L849.6 487Z" fill="url(#gRl)"/>
<path id="ribtop" d="M1359.3 164.3L1355.9 162.3L1352.6 160.4L1349.3 158.4L1346 156.5L1342.7 154.5L1339.3 152.5L1335.9 150.6L1332.5 148.6L1329 146.7L1325.5 144.7L1322 142.8L1318.5 141L1315 139.2L1311.5 137.4L1308 135.6L1304.4 133.8L1300.7 132L1297 130.1L1293.1 128.2L1289.1 126.3L1285.1 124.2L1281 122.2L1276.8 120.1L1272.5 117.9L1268 115.7L1263.5 113.5L1258.7 111.2L1253.8 108.9L1248.7 106.7L1243.3 104.4L1237.8 102.2L1232.1 99.9L1226.3 97.7L1220.2 95.4L1214.1 93.1L1207.8 90.9L1201.3 88.6L1194.8 86.3L1188.1 84.1L1181.4 81.9L1174.5 79.7L1167.5 77.4L1160.2 75.2L1152.9 73L1145.4 70.8L1137.9 68.6L1130.4 66.4L1122.9 64.3L1115.4 62.3L1108 60.3L1100.7 58.5L1093.4 56.6L1086.1 54.8L1078.7 53L1071.4 51.2L1064 49.6L1056.7 47.9L1049.3 46.4L1041.9 44.9L1034.5 43.5L1027.2 42.3L1020.1 41.1L1013 40L1005.9 39L998.7 38L991.5 37.1L984.2 36.2L976.7 35.4L968.9 34.5L960.9 33.7L952.5 32.8L943.9 31.9L935 31L926 30.2L916.8 29.3L907.4 28.5L898 27.8L888.5 27.1L878.9 26.5L869.4 26L859.7 25.6L849.7 25.2L839.5 24.9L829.2 24.7L818.9 24.5L808.7 24.4L798.7 24.3L789 24.3L779.7 24.2L771 24.3L762.8 24.3L755.2 24.4L748.1 24.5L741.4 24.6L734.7 24.8L728.2 25L721.5 25.3L714.6 25.6L707.3 25.9L699.5 26.3L691.2 26.7L682.4 27.2L673.3 27.8L664.1 28.3L654.6 29L645.2 29.6L635.7 30.2L626.4 30.8L617.3 31.4L608.4 32L599.8 32.5L591.2 33L582.7 33.4L574.2 33.9L565.8 34.3L557.4 34.8L549.1 35.3L541 35.9L532.9 36.6L524.9 37.3L516.9 38.1L508.9 39L500.9 39.9L492.9 40.9L485 42L477.4 43.1L470.1 44.2L463.2 45.4L456.8 46.6L450.9 47.9L445.5 49.3L440.9 50.7L436.7 52.2L433.1 53.8L429.9 55.4L426.9 57L424.2 58.5L421.6 59.9L418.9 61.3L415.7 62.7L412.1 64.3L408.2 66L404.1 67.7L400 69.5L395.8 71.3L391.7 73.1L387.6 74.8L383.6 76.6L379.7 78.3L376 80L372.6 81.6L369.3 83.3L366.1 84.9L363.1 86.5L360.2 88L357.3 89.6L354.5 91L351.8 92.5L349.1 93.9L346.4 95.3L343.6 96.7L340.9 98L338.2 99.4L335.6 100.6L333.1 101.9L330.6 103.1L328.2 104.3L325.7 105.4L323.3 106.5L320.9 107.5L318.4 108.5L315.9 109.5L313.4 110.5L311 111.4L308.5 112.3L306 113.1L303.5 114L300.9 114.8L298.3 115.6L295.6 116.5L292.8 117.3L290 118.1L287.2 118.9L284.4 119.7L281.5 120.5L278.7 121.2L275.9 121.9L273 122.5L270.1 123L267.3 123.5L267.6 122.5L283.8 102.6L259.3 104.7L235.6 133.8L263.9 158.3L288.5 156.2L269.1 139.4L269.7 140.3L273.1 139.8L276.3 139.2L279.5 138.5L282.7 137.8L285.8 137L288.8 136.2L291.8 135.4L294.7 134.6L297.6 133.8L300.4 132.9L303.2 132.1L306 131.3L308.8 130.4L311.5 129.6L314.2 128.7L316.8 127.7L319.5 126.8L322.2 125.8L324.8 124.8L327.5 123.7L330.3 122.5L333 121.3L335.6 120.1L338.2 118.9L340.8 117.6L343.4 116.3L346 115L348.7 113.7L351.3 112.4L354 111.1L356.9 109.8L359.7 108.4L362.6 107.1L365.4 105.7L368.3 104.4L371.3 103L374.3 101.6L377.4 100.2L380.6 98.7L384 97.2L387.5 95.6L391.2 94L395.2 92.3L399.2 90.5L403.3 88.7L407.5 86.9L411.6 85.2L415.7 83.4L419.6 81.7L423.5 80.1L427.2 78.3L430.5 76.6L433.4 75L436.1 73.4L438.6 72L441.1 70.7L443.8 69.5L446.9 68.3L450.6 67.1L455.1 65.9L460.5 64.7L466.5 63.6L473.1 62.4L480.2 61.3L487.6 60.3L495.2 59.3L503.1 58.3L511 57.4L518.9 56.5L526.7 55.7L534.5 55L542.3 54.3L550.4 53.8L558.5 53.3L566.8 52.8L575.1 52.4L583.6 51.9L592.2 51.5L600.9 51L609.6 50.4L618.5 49.8L627.6 49.2L637 48.5L646.4 47.8L655.9 47.2L665.3 46.5L674.5 45.9L683.5 45.3L692.2 44.8L700.5 44.3L708.2 43.9L715.5 43.5L722.3 43.1L728.9 42.8L735.4 42.6L741.9 42.3L748.5 42.1L755.5 42L763 41.8L771 41.7L779.8 41.7L789 41.7L798.6 41.7L808.5 41.7L818.6 41.8L828.9 41.9L839.1 42.1L849.2 42.3L859 42.6L868.6 43L878 43.5L887.4 44L896.8 44.6L906.1 45.3L915.4 46L924.5 46.8L933.5 47.6L942.2 48.4L950.8 49.3L959.1 50.1L967.1 51L974.8 51.9L982.2 52.8L989.5 53.7L996.5 54.6L1003.5 55.6L1010.4 56.6L1017.3 57.8L1024.3 59L1031.5 60.3L1038.6 61.7L1045.8 63.1L1053 64.7L1060.2 66.3L1067.4 68L1074.6 69.8L1081.9 71.6L1089.1 73.5L1096.3 75.3L1103.6 77.3L1110.9 79.2L1118.2 81.2L1125.7 83.3L1133.1 85.4L1140.5 87.6L1147.9 89.7L1155.1 91.9L1162.3 94.1L1169.2 96.3L1176 98.5L1182.6 100.7L1189.1 102.9L1195.6 105.1L1201.9 107.3L1208.1 109.6L1214.1 111.8L1220 114L1225.8 116.2L1231.3 118.4L1236.7 120.6L1241.8 122.7L1246.7 124.8L1251.4 127L1256 129.1L1260.5 131.2L1264.9 133.3L1269.1 135.4L1273.4 137.5L1277.5 139.5L1281.7 141.5L1285.7 143.5L1289.6 145.3L1293.3 147.1L1297 148.9L1300.5 150.6L1304 152.3L1307.4 154L1310.9 155.7L1314.3 157.5L1317.7 159.3L1321.1 161.1L1324.5 162.9L1327.9 164.8L1331.2 166.7L1334.5 168.6L1337.9 170.5L1341.2 172.4L1344.6 174.3L1347.9 176.2L1351.3 178.1Z" fill="url(#gRt)"/>
<path id="ribbrown-out" d="M210.3 124.6L208 125.4L205.8 126.1L203.5 126.8L201 127.5L198.5 128.3L195.9 129.2L193.2 130.1L190.5 131.2L187.6 132.4L184.8 133.7L182.1 135.1L179.5 136.6L176.8 138.2L174 139.8L171.3 141.5L168.6 143.4L166 145.3L163.3 147.2L160.8 149.3L158.3 151.5L156 153.6L153.7 155.8L151.5 158.1L149.4 160.5L147.3 162.9L145.3 165.5L143.4 168L141.5 170.7L139.7 173.4L138 176.2L136.4 179.2L134.9 182.2L133.5 185.2L132.1 188.3L130.8 191.5L129.7 194.6L128.6 197.8L127.6 201L126.7 204.1L125.8 207.2L125.1 210.4L124.5 213.5L123.9 216.6L122.1 220.2L89.6 193.2L93.1 227L138.3 264.5L174.7 218.4L171.1 184.6L145 217.8L146.6 220.3L147.1 217.8L147.6 215.3L148.2 212.8L148.8 210.2L149.6 207.6L150.4 205L151.3 202.4L152.3 199.8L153.3 197.2L154.4 194.7L155.6 192.3L156.7 190L158 187.8L159.2 185.6L160.6 183.5L162 181.5L163.5 179.5L165.1 177.6L166.7 175.7L168.4 173.8L170.1 172L171.9 170.2L173.7 168.5L175.5 166.9L177.5 165.4L179.6 163.8L181.7 162.3L183.9 160.8L186.2 159.3L188.5 158L190.7 156.6L193 155.4L195.2 154.3L197.2 153.3L199.1 152.5L201.2 151.7L203.3 151L205.5 150.2L207.8 149.5L210.1 148.8L212.6 148.1L215.2 147.2L217.7 146.4Z" fill="#de8528" fill-opacity="0.42"/>
<g clip-path="url(#cpOr)"><path id="ribbrown" d="M210.3 124.6L208 125.4L205.8 126.1L203.5 126.8L201 127.5L198.5 128.3L195.9 129.2L193.2 130.1L190.5 131.2L187.6 132.4L184.8 133.7L182.1 135.1L179.5 136.6L176.8 138.2L174 139.8L171.3 141.5L168.6 143.4L166 145.3L163.3 147.2L160.8 149.3L158.3 151.5L156 153.6L153.7 155.8L151.5 158.1L149.4 160.5L147.3 162.9L145.3 165.5L143.4 168L141.5 170.7L139.7 173.4L138 176.2L136.4 179.2L134.9 182.2L133.5 185.2L132.1 188.3L130.8 191.5L129.7 194.6L128.6 197.8L127.6 201L126.7 204.1L125.8 207.2L125.1 210.4L124.5 213.5L123.9 216.6L122.1 220.2L89.6 193.2L93.1 227L138.3 264.5L174.7 218.4L171.1 184.6L145 217.8L146.6 220.3L147.1 217.8L147.6 215.3L148.2 212.8L148.8 210.2L149.6 207.6L150.4 205L151.3 202.4L152.3 199.8L153.3 197.2L154.4 194.7L155.6 192.3L156.7 190L158 187.8L159.2 185.6L160.6 183.5L162 181.5L163.5 179.5L165.1 177.6L166.7 175.7L168.4 173.8L170.1 172L171.9 170.2L173.7 168.5L175.5 166.9L177.5 165.4L179.6 163.8L181.7 162.3L183.9 160.8L186.2 159.3L188.5 158L190.7 156.6L193 155.4L195.2 154.3L197.2 153.3L199.1 152.5L201.2 151.7L203.3 151L205.5 150.2L207.8 149.5L210.1 148.8L212.6 148.1L215.2 147.2L217.7 146.4Z" fill="url(#gRb)" fill-opacity="0.92"/></g>
</g>
<g id="labels">
<g fill="none" stroke="#b2b2b2" stroke-width="1.3"><path d="M23.7 46V277M23.7 418V530M23.7 638V699M23.7 786V847"/></g>
<text transform="translate(37.3 350) rotate(-90)" text-anchor="middle" font-size="40.5" fill="#8c8c8c" textLength="100" lengthAdjust="spacingAndGlyphs">Models</text>
<text transform="translate(37.6 742.5) rotate(-90)" text-anchor="middle" font-size="40.5" fill="#8c8c8c" textLength="66" lengthAdjust="spacingAndGlyphs">Data</text>
<text x="598.5" y="227.6" font-size="38" fill="#000" textLength="405.5" lengthAdjust="spacingAndGlyphs">Scenario generation process</text>
<text x="325.7" y="272.8" font-size="33.9" fill="#dc8738" font-weight="bold" textLength="67.7" lengthAdjust="spacingAndGlyphs">WGIII</text>
<text x="785.6" y="364.2" font-size="43" fill="#3f5996" font-weight="bold" textLength="66.8" lengthAdjust="spacingAndGlyphs">WGI</text>
<text x="1133" y="273.5" font-size="35.5" fill="#459947" font-weight="bold" textLength="59.5" lengthAdjust="spacingAndGlyphs">WGII</text>
<text x="200.2" y="53.2" font-size="20.9" fill="#c8793d" textLength="119.2" lengthAdjust="spacingAndGlyphs">Defining shared</text>
<text x="202.4" y="73.8" font-size="20.9" fill="#c8793d" textLength="119.6" lengthAdjust="spacingAndGlyphs">socio-economic</text>
<text x="226.5" y="94.4" font-size="20.9" fill="#c8793d" textLength="71.5" lengthAdjust="spacingAndGlyphs">pathways</text>
<text x="143.7" y="251" font-size="23.7" fill="#f6eee2" textLength="87" lengthAdjust="spacingAndGlyphs">Integrated</text>
<text x="143.7" y="280" font-size="23.7" fill="#f6eee2" textLength="117" lengthAdjust="spacingAndGlyphs">Assessement</text>
<text x="143.7" y="308.5" font-size="23.7" fill="#f6eee2" textLength="62" lengthAdjust="spacingAndGlyphs">Models</text>
<text x="368.5" y="340" font-size="20.7" fill="#c8793d" textLength="183.5" lengthAdjust="spacingAndGlyphs">Classification of scenarios</text>
<text x="382.5" y="354" font-size="20.7" fill="#c8793d" textLength="160" lengthAdjust="spacingAndGlyphs">against climate targets</text>
<text x="548.5" y="406" font-size="20.7" fill="#4a5fa0" textLength="85" lengthAdjust="spacingAndGlyphs">Calibration /</text>
<text x="557.5" y="420" font-size="20.7" fill="#4a5fa0" textLength="70" lengthAdjust="spacingAndGlyphs">Emulation</text>
<text x="330.5" y="455.8" font-size="20.7" fill="#f6eee2" textLength="68.3" lengthAdjust="spacingAndGlyphs">Emission</text>
<text x="350" y="477" font-size="20.7" fill="#f6eee2" textLength="107" lengthAdjust="spacingAndGlyphs">harmonisation</text>
<text x="474" y="498" font-size="21.2" fill="#eef0f2" textLength="154.5" lengthAdjust="spacingAndGlyphs">Reduced complexity</text>
<text x="471" y="519" font-size="21.2" fill="#eef0f2" textLength="165" lengthAdjust="spacingAndGlyphs">and gas cycle models</text>
<text x="738" y="491.5" font-size="26" fill="#f2f0ea" textLength="175" lengthAdjust="spacingAndGlyphs">Earth System and</text>
<text x="693" y="514.6" font-size="26" fill="#f2f0ea" textLength="266.4" lengthAdjust="spacingAndGlyphs">General Circulation Models</text>
<text x="1275.5" y="212.5" font-size="20.7" fill="#eaf0e2" textLength="157.5" lengthAdjust="spacingAndGlyphs">Species, human and</text>
<text x="1293" y="234" font-size="20.7" fill="#eaf0e2" textLength="121.5" lengthAdjust="spacingAndGlyphs">socio-economic</text>
<text x="1300.5" y="255" font-size="20.7" fill="#eaf0e2" textLength="111.5" lengthAdjust="spacingAndGlyphs">impact models</text>
<text x="1264.5" y="323.5" font-size="20.7" fill="#eaf0e2" textLength="117.5" lengthAdjust="spacingAndGlyphs">Ecosystem and</text>
<text x="1252" y="345" font-size="20.7" fill="#eaf0e2" textLength="147" lengthAdjust="spacingAndGlyphs">biodiversity models</text>
<text x="1182" y="427.5" font-size="20.7" fill="#eaf0e2" textLength="95" lengthAdjust="spacingAndGlyphs">Geophysical</text>
<text x="1175.5" y="448.5" font-size="20.7" fill="#eaf0e2" textLength="112.5" lengthAdjust="spacingAndGlyphs">Impact Models</text>
<text x="218.5" y="591" font-size="21.2" fill="#c8793d" textLength="72.5" lengthAdjust="spacingAndGlyphs">Mitigation</text>
<text x="233.5" y="609" font-size="21.2" fill="#c8793d" textLength="46.5" lengthAdjust="spacingAndGlyphs">Action</text>
<text x="1196.5" y="601" font-size="21.2" fill="#3d9a6e" textLength="81.5" lengthAdjust="spacingAndGlyphs">Adaptation</text>
</g>
<g id="data">
<g id="box1">
<rect x="88.8" y="644.8" width="147.5" height="124" fill="#dc8738"/>
<rect x="76" y="657.1" width="147.5" height="124" fill="#dc8738"/>
<path d="M76 657.1H223.5V781.1" fill="none" stroke="#fff" stroke-width="1"/>
<path d="M88.4 674l2.6 -4.5l2.6 4.5" fill="none" stroke="#fff" stroke-width="1"/>
<rect x="67" y="674.8" width="147.5" height="124" fill="#dc8738"/>
<path d="M67 674.8H214.5V798.8" fill="none" stroke="#fff" stroke-width="1"/>
<g fill="none" stroke="#fff" stroke-width="1.25">
<path d="M82.3 687.8V776.3H202"/>
<path d="M77.9 696.3l4.4 -8.5l4.4 8.5"/>
<path d="M193.5 771.9l8.5 4.4l-8.5 4.4"/>
</g>
<text x="169" y="790.8" font-size="14.6" fill="#fff" textLength="23.2" lengthAdjust="spacingAndGlyphs">time</text>
<g fill="none" stroke="#fff" stroke-linecap="round" transform="translate(67 674.8)">
<path d="M21.5 89.5C23.2 87.2 25.5 83.5 32 75.7C38.5 67.9 47.8 53 60.4 42.7C73.1 32.4 100.1 18.8 108 14" stroke-width="0.7" stroke-opacity="0.8"/>
<path d="M21.5 89.5C23.2 87.3 25.2 83.1 32 76C38.8 69 48.9 56.2 62.2 47C75.6 37.9 103.7 25.3 112 21" stroke-width="1.0" stroke-opacity="0.9"/>
<path d="M21.5 89.5C23.2 87.3 25.2 82.9 32 76.3C38.8 69.7 48.9 58.5 62.2 50.1C75.6 41.7 103.7 30 112 26" stroke-width="1.1"/>
<path d="M21.5 89.5C23.2 87.4 25.2 82.5 32 76.7C38.8 70.8 48.9 61.7 62.2 54.5C75.6 47.2 103.7 36.6 112 33" stroke-width="1.2"/>
<path d="M21.5 89.5C23.2 87.5 25.2 81.8 32 77.2C38.8 72.7 48.9 67.3 62.2 61.9C75.6 56.5 103.7 47.8 112 45" stroke-width="1.3"/>
<path d="M21.5 89.5C23.2 87.5 25.4 81.5 32 77.6C38.6 73.7 48.3 70.5 61.3 66.2C74.3 62 101.9 54.4 110 52" stroke-width="1.0" stroke-opacity="0.9"/>
<path d="M21.5 89.5C23.2 87.6 25.4 81.2 32 77.8C38.6 74.5 48.3 72.8 61.3 69.3C74.3 65.9 101.9 59.1 110 57" stroke-width="0.8" stroke-opacity="0.8"/>
<path d="M21.5 89.5C23.2 87.6 25.4 80.9 32 78.1C38.6 75.3 48.3 75.1 61.3 72.5C74.3 69.8 101.9 63.7 110 62" stroke-width="0.7" stroke-opacity="0.7"/>
<path d="M21.5 89.5C23.2 87.4 25.2 82.2 32 76.9C38.8 71.6 48.9 64.1 62.2 57.6C75.6 51.1 103.7 41.3 112 38" stroke-width="0.8" stroke-opacity="0.8"/>
</g>
</g>
<g id="box2">
<rect x="299" y="644.8" width="147.5" height="124" fill="#dc8738"/>
<rect x="286.2" y="657.1" width="147.5" height="124" fill="#dc8738"/>
<path d="M286.2 657.1H433.7V781.1" fill="none" stroke="#fff" stroke-width="1"/>
<path d="M298.6 674l2.6 -4.5l2.6 4.5" fill="none" stroke="#fff" stroke-width="1"/>
<rect x="277.2" y="674.8" width="147.5" height="124" fill="#dc8738"/>
<path d="M277.2 674.8H424.7V798.8" fill="none" stroke="#fff" stroke-width="1"/>
<g fill="none" stroke="#fff" stroke-width="1.25">
<path d="M292.5 687.8V776.3H412.2"/>
<path d="M288.1 696.3l4.4 -8.5l4.4 8.5"/>
<path d="M403.7 771.9l8.5 4.4l-8.5 4.4"/>
</g>
<text x="379.2" y="790.8" font-size="14.6" fill="#fff" textLength="23.2" lengthAdjust="spacingAndGlyphs">time</text>
<g fill="none" stroke="#fff" stroke-linecap="round" transform="translate(277.2 674.8)">
<path d="M21.5 89.5C26.2 82.9 41.1 59.9 50 50C58.9 40.1 68 34.2 75 30C82 25.8 85.8 27.8 92 25C98.2 22.2 108.7 15 112 13" stroke-width="0.8" stroke-opacity="0.8"/>
<path d="M21.5 89.5C25.9 83.8 39.6 64.4 48 55C56.4 45.6 64.7 37.3 72 33C79.3 28.7 85.3 30.8 92 29C98.7 27.2 108.7 23.2 112 22" stroke-width="1.3"/>
<path d="M21.5 89.5C26.2 84.2 41.1 65.9 50 58C58.9 50.1 67.5 45 75 42C82.5 39 89.5 41.2 95 40C100.5 38.8 105.8 35.8 108 35" stroke-width="1.3"/>
<path d="M21.5 89.5C26.2 84.9 41.1 68.9 50 62C58.9 55.1 67.5 50.7 75 48C82.5 45.3 89.5 47.3 95 46C100.5 44.7 105.8 41 108 40" stroke-width="1.2"/>
<path d="M21.5 89.5C25.9 85.6 39.6 71.6 48 66C56.4 60.4 64.7 58.3 72 56C79.3 53.7 86 53.8 92 52C98 50.2 105.3 46.2 108 45" stroke-width="0.8" stroke-opacity="0.8"/>
<path d="M21.5 89.5C25.9 85.9 39.9 72.9 48 68C56.1 63.1 63 61.3 70 60C77 58.7 83.7 61 90 60C96.3 59 105 55 108 54" stroke-width="0.8" stroke-opacity="0.8"/>
<path d="M21.5 89.5C25.9 85.9 40.2 73.2 48 68C55.8 62.8 61.8 58.7 68 58C74.2 57.3 78.3 62.7 85 64C91.7 65.3 104.2 65.7 108 66" stroke-width="0.9" stroke-opacity="0.9"/>
<path d="M21.5 89.5C25.4 86.6 37.8 76.2 45 72C52.2 67.8 58.3 64 65 64C71.7 64 77.8 70.3 85 72C92.2 73.7 104.2 73.7 108 74" stroke-width="0.8" stroke-opacity="0.8"/>
<path d="M21.5 89.5C25.4 86.2 37.6 74.9 45 70C52.4 65.1 59.5 59.7 66 60C72.5 60.3 78.7 67.7 84 72C89.3 76.3 94 83.5 98 86C102 88.5 106.3 86.8 108 87" stroke-width="1.3"/>
<path d="M21.5 89.5C24.9 86.9 35.2 77.6 42 74C48.8 70.4 55.7 67.3 62 68C68.3 68.7 74.3 74.7 80 78C85.7 81.3 91.7 86.2 96 88C100.3 89.8 104.3 88.8 106 89" stroke-width="0.8" stroke-opacity="0.8"/>
</g>
</g>
<g id="box3">
<rect x="551.1" y="643.3" width="147.5" height="124" fill="#435b98"/>
<rect x="538.3" y="655.6" width="147.5" height="124" fill="#435b98"/>
<path d="M538.3 655.6H685.8V779.6" fill="none" stroke="#fff" stroke-width="1"/>
<path d="M550.7 672.5l2.6 -4.5l2.6 4.5" fill="none" stroke="#fff" stroke-width="1"/>
<rect x="529.3" y="673.3" width="147.5" height="124" fill="#435b98"/>
<path d="M529.3 673.3H676.8V797.3" fill="none" stroke="#fff" stroke-width="1"/>
<g fill="none" stroke="#fff" stroke-width="1.25">
<path d="M544.6 686.3V774.8H664.3"/>
<path d="M540.2 694.8l4.4 -8.5l4.4 8.5"/>
<path d="M655.8 770.4l8.5 4.4l-8.5 4.4"/>
</g>
<text x="631.3" y="789.3" font-size="14.6" fill="#fff" textLength="23.2" lengthAdjust="spacingAndGlyphs">time</text>
<g fill="none" stroke="#fff" stroke-linecap="round" transform="translate(529.3 673.3)">
<path d="M21.5 89.5C25.4 84.6 36.6 69.1 45 60C53.4 50.9 63.7 41.2 72 35C80.3 28.8 88.3 25.2 95 23C101.7 20.8 109.2 21.8 112 21.5" stroke-width="1.3"/>
<path d="M21.5 89.5C25.9 85.2 39.6 71.1 48 64C56.4 56.9 65.3 50.5 72 47C78.7 43.5 82 42.8 88 43C94 43.2 104.7 47.2 108 48" stroke-width="1.3"/>
<path d="M21.5 89.5C25.4 86.6 37.8 76.9 45 72C52.2 67.1 59.2 62.3 65 60C70.8 57.7 72.8 57 80 58C87.2 59 103.3 64.7 108 66" stroke-width="1.3"/>
<path d="M21.5 89.5C24.9 86.9 35.2 78.6 42 74C48.8 69.4 56.3 64.5 62 62C67.7 59.5 71.7 58 76 59C80.3 60 83.2 65.3 88 68C92.8 70.7 102.2 73.8 105 75" stroke-width="1.3"/>
</g>
</g>
<g id="box4">
<rect x="779.8" y="644.8" width="147.5" height="124" fill="#435b98"/>
<rect x="767" y="657.1" width="147.5" height="124" fill="#435b98"/>
<path d="M767 657.1H914.5V781.1" fill="none" stroke="#fff" stroke-width="1"/>
<path d="M779.4 674l2.6 -4.5l2.6 4.5" fill="none" stroke="#fff" stroke-width="1"/>
<rect x="758" y="674.8" width="147.5" height="124" fill="#435b98"/>
<path d="M758 674.8H905.5V798.8" fill="none" stroke="#fff" stroke-width="1"/>
<g fill="none" stroke="#fff" stroke-width="1.25">
<path d="M773.3 687.8V776.3H893"/>
<path d="M768.9 696.3l4.4 -8.5l4.4 8.5"/>
<path d="M884.5 771.9l8.5 4.4l-8.5 4.4"/>
</g>
<text x="860" y="790.8" font-size="14.6" fill="#fff" textLength="23.2" lengthAdjust="spacingAndGlyphs">time</text>
<g fill="none" stroke="#fff" stroke-linecap="round" transform="translate(758 674.8)">
<path d="M21.5 89.5C23.8 84.9 29.4 69.6 35 62C40.6 54.4 47.5 49 55 44C62.5 39 72.2 35.3 80 32C87.8 28.7 98.3 25.3 102 24" stroke-width="1.3"/>
<path d="M21.5 89.5C24.2 85.9 31.9 73.8 38 68C44.1 62.2 51.7 57.7 58 55C64.3 52.3 70.3 51.5 76 52C81.7 52.5 87.2 56 92 58C96.8 60 102.8 63 105 64" stroke-width="1.3"/>
<path d="M21.5 89.5C24.6 87.1 33.6 79.2 40 75C46.4 70.8 53.7 66.5 60 64C66.3 61.5 72.7 59.3 78 60C83.3 60.7 87.5 65.5 92 68C96.5 70.5 102.8 73.8 105 75" stroke-width="1.3"/>
</g>
</g>
<g id="box5">
<rect x="1055.8" y="644.8" width="147.5" height="124" fill="url(#gGeoBox)"/>
<rect x="1043" y="657.1" width="147.5" height="124" fill="url(#gGeoBox)"/>
<path d="M1043 657.1H1190.5V781.1" fill="none" stroke="#fff" stroke-width="1"/>
<path d="M1055.4 674l2.6 -4.5l2.6 4.5" fill="none" stroke="#fff" stroke-width="1"/>
<rect x="1034" y="674.8" width="147.5" height="124" fill="url(#gGeoBox)"/>
<path d="M1034 674.8H1181.5V798.8" fill="none" stroke="#fff" stroke-width="1"/>
<g fill="none" stroke="#fff" stroke-width="1.25">
<path d="M1049.3 687.8V776.3H1169"/>
<path d="M1044.9 696.3l4.4 -8.5l4.4 8.5"/>
<path d="M1160.5 771.9l8.5 4.4l-8.5 4.4"/>
</g>
<text x="1136" y="790.8" font-size="14.6" fill="#fff" textLength="23.2" lengthAdjust="spacingAndGlyphs">time</text>
<g fill="none" stroke="#fff" stroke-linecap="round" transform="translate(1034 674.8)">
<path d="M21.5 89.5C25.4 84.6 36.9 68.9 45 60C53.1 51.1 62.2 42 70 36C77.8 30 85 26.3 92 24C99 21.7 108.7 22.3 112 22" stroke-width="1.3"/>
<path d="M21.5 89.5C25.9 85.2 39.9 70.9 48 64C56.1 57.1 63.3 51.5 70 48C76.7 44.5 82.2 43.2 88 43C93.8 42.8 102.2 46.3 105 47" stroke-width="1.3"/>
<path d="M21.5 89.5C24.9 86.9 35.6 78.6 42 74C48.4 69.4 54.7 64.3 60 62C65.3 59.7 69 58.7 74 60C79 61.3 84.8 67.5 90 70C95.2 72.5 102.5 74.2 105 75" stroke-width="1.3"/>
</g>
</g>
<g id="box6">
<rect x="1282.6" y="644.8" width="147.5" height="124" fill="#459947"/>
<rect x="1269.8" y="657.1" width="147.5" height="124" fill="#459947"/>
<path d="M1269.8 657.1H1417.3V781.1" fill="none" stroke="#fff" stroke-width="1"/>
<path d="M1282.2 674l2.6 -4.5l2.6 4.5" fill="none" stroke="#fff" stroke-width="1"/>
<rect x="1260.8" y="674.8" width="147.5" height="124" fill="#459947"/>
<path d="M1260.8 674.8H1408.3V798.8" fill="none" stroke="#fff" stroke-width="1"/>
<g fill="none" stroke="#fff" stroke-width="1.25">
<path d="M1276.1 687.8V776.3H1395.8"/>
<path d="M1271.7 696.3l4.4 -8.5l4.4 8.5"/>
<path d="M1387.3 771.9l8.5 4.4l-8.5 4.4"/>
</g>
<text x="1362.8" y="790.8" font-size="14.6" fill="#fff" textLength="23.2" lengthAdjust="spacingAndGlyphs">time</text>
<g fill="none" stroke="#fff" stroke-linecap="round" transform="translate(1260.8 674.8)">
<path d="M21.5 89.5C25.4 84.6 37.2 68.6 45 60C52.8 51.4 60.5 43.8 68 38C75.5 32.2 82.7 27.7 90 25C97.3 22.3 108.3 22.5 112 22" stroke-width="1.3"/>
<path d="M21.5 89.5C25.9 85.2 39.9 70.9 48 64C56.1 57.1 63.3 51.5 70 48C76.7 44.5 81.7 43 88 43C94.3 43 104.7 47.2 108 48" stroke-width="1.3"/>
<path d="M21.5 89.5C25.4 86.6 37.8 76.9 45 72C52.2 67.1 59.2 62.3 65 60C70.8 57.7 72.8 57 80 58C87.2 59 103.3 64.7 108 66" stroke-width="1.3"/>
</g>
</g>
<path id="harrow1" d="M236 718.8L263.3 718.8L258 713.4L265.5 713.4L274.4 722.4L265.5 731.4L258 731.4L263.3 726L236 726Z" fill="#dc8738"/>
<path id="harrow2" d="M446 718.8L515.9 718.8L510.6 713.4L518.1 713.4L527 722.4L518.1 731.4L510.6 731.4L515.9 726L446 726Z" fill="url(#gA2)"/>
<path id="harrow3" d="M698.5 718.7L741.4 718.7L736.1 713.3L743.6 713.3L752.5 722.3L743.6 731.3L736.1 731.3L741.4 725.9L698.5 725.9Z" fill="#435b98"/>
<path id="harrow4" d="M927 718.8L1010.9 718.8L1005.6 713.4L1013.1 713.4L1022 722.4L1013.1 731.4L1005.6 731.4L1010.9 726L927 726Z" fill="#435b98"/>
<path id="harrow5" d="M1203.5 718.8L1244.6 718.8L1239.3 713.4L1246.8 713.4L1255.7 722.4L1246.8 731.4L1239.3 731.4L1244.6 726L1203.5 726Z" fill="#4a8f42"/>
<path id="harrow6" d="M1430 718.8L1458.5 718.8L1453.2 713.4L1460.7 713.4L1469.6 722.4L1460.7 731.4L1453.2 731.4L1458.5 726L1430 726Z" fill="#459947"/>
<g fill="none">
<path d="M257.4 620.5V697" stroke="#dc8738" stroke-width="2" stroke-dasharray="6.5 2.6"/>
<path d="M248.3 690.7L257.3 700.6L265.8 690.7" stroke="#dc8738" stroke-width="2.3"/>
<path d="M1237.35 614.7V695" stroke="#2a966e" stroke-width="2" stroke-dasharray="5.9 3"/>
<path d="M1228.7 688L1237.35 698L1246.1 688" stroke="#2a966e" stroke-width="2.3"/>
</g>
<text x="70.4" y="816.9" font-size="21.2" fill="#000" textLength="59" lengthAdjust="spacingAndGlyphs">Drivers:</text>
<text x="70.4" y="834.1" font-size="15.5" fill="#000" textLength="93.8" lengthAdjust="spacingAndGlyphs">GDP, Population,</text>
<text x="70.4" y="852.8" font-size="15.5" fill="#000" textLength="71.8" lengthAdjust="spacingAndGlyphs">Technology...</text>
<text x="277" y="816.9" font-size="21.2" fill="#000" textLength="81.8" lengthAdjust="spacingAndGlyphs">Emissions:</text>
<text x="277" y="834.1" font-size="15.5" fill="#000" textLength="121.8" lengthAdjust="spacingAndGlyphs">CO<tspan font-size="9.6" dy="3.8">2</tspan><tspan dy="-3.8">, CH</tspan><tspan font-size="9.6" dy="3.8">4</tspan><tspan dy="-3.8">, N</tspan><tspan font-size="9.6" dy="3.8">2</tspan><tspan dy="-3.8">O, HFCs,</tspan></text>
<text x="277" y="852.8" font-size="15.5" fill="#000" textLength="143.8" lengthAdjust="spacingAndGlyphs">aerosols, landuse patterns</text>
<text x="529.5" y="814.5" font-size="21.2" fill="#000" textLength="119.5" lengthAdjust="spacingAndGlyphs">Concentrations:</text>
<text x="529.5" y="833" font-size="15.5" fill="#000" textLength="131.3" lengthAdjust="spacingAndGlyphs">CO<tspan font-size="9.6" dy="3.8">2</tspan><tspan dy="-3.8">, CH</tspan><tspan font-size="9.6" dy="3.8">4</tspan><tspan dy="-3.8">, N</tspan><tspan font-size="9.6" dy="3.8">2</tspan><tspan dy="-3.8">O, HFCs, ..</tspan></text>
<text x="529.5" y="850.7" font-size="15.5" fill="#000" textLength="156.7" lengthAdjust="spacingAndGlyphs">ozone, and aerosol loadings.</text>
<text x="759" y="816.2" font-size="21.2" fill="#000" textLength="147.2" lengthAdjust="spacingAndGlyphs">Climate Projections</text>
<text x="759" y="834.1" font-size="15.5" fill="#000" textLength="198.7" lengthAdjust="spacingAndGlyphs">(incl. radiative forcing, temperatures,</text>
<text x="759" y="852.4" font-size="15.5" fill="#000" textLength="266.5" lengthAdjust="spacingAndGlyphs">precipitation, snow cover, sea ice, sea level, etc.)</text>
<text x="1033.6" y="816.2" font-size="21.2" fill="#000" textLength="157.8" lengthAdjust="spacingAndGlyphs">Geophysical impacts</text>
<text x="1033.6" y="834.1" font-size="15.5" fill="#000" textLength="179.8" lengthAdjust="spacingAndGlyphs">(incl. river runoff, coastal erosion,</text>
<text x="1033.6" y="852.4" font-size="15.5" fill="#000" textLength="222.1" lengthAdjust="spacingAndGlyphs">ecosystem shifts, wildfire modelling, etc.)</text>
<text x="1260.8" y="816.2" font-size="21.2" fill="#000" textLength="260.2" lengthAdjust="spacingAndGlyphs">Species-level and Human impacts</text>
<text x="1260.8" y="834.1" font-size="15.5" fill="#000" textLength="203.8" lengthAdjust="spacingAndGlyphs">(incl. infectious diseases, heat stress,</text>
<text x="1260.8" y="852.4" font-size="15.5" fill="#000" textLength="240" lengthAdjust="spacingAndGlyphs">species distributions, insurance losses etc. )</text>
<text x="65.9" y="898.9" font-size="34.2" fill="#000" textLength="77" lengthAdjust="spacingAndGlyphs">Cause</text>
<text x="1341" y="898.9" font-size="34.2" fill="#000" textLength="68.4" lengthAdjust="spacingAndGlyphs">Effect</text>
<path id="cause-effect" d="M160.1 888.3L1313.2 888.3L1306.8 881.9L1315.9 881.9L1326.7 892.7L1315.9 903.5L1306.8 903.5L1313.2 897.1L160.1 897.1Z" fill="url(#gCE)"/>
</g>
<g id="dashes" fill="none" stroke-width="2">
<path d="M151.4 304.9V645" stroke="#dc8738" stroke-dasharray="13.7 14.3"/>
<path d="M366.3 490.1V645.4" stroke="#dc8738" stroke-dasharray="15.6 16.3" stroke-dashoffset="8.6"/>
<path d="M611.8 527.7V644" stroke="#4a8ac6" stroke-dasharray="13.5 14.1"/>
<path d="M846.6 532.7V648.5" stroke="#4a8ac6" stroke-dasharray="13.5 13.8"/>
<path d="M1134.7 512.5V645.3" stroke="#3ea57a" stroke-dasharray="13.7 14.4" stroke-dashoffset="6.1"/>
<path d="M1134.7 646.9V654.4" stroke="#62bd96"/>
<path d="M1345.7 344.8V645.3" stroke="#3ea57a" stroke-dasharray="14.8 15.3" stroke-dashoffset="7.4"/>
</g>
</svg>
</body></html>
